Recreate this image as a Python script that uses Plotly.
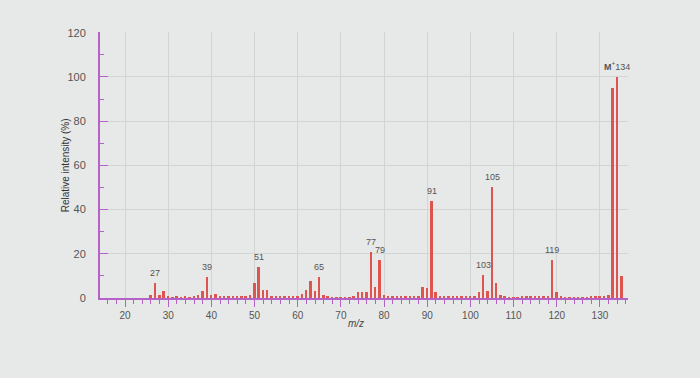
import plotly.graph_objects as go

# m/z values and relative intensities (%)
mz = list(range(26, 136))
intensity = [
    1.2, 7.0, 1.5, 3.0, 0.5, 0.3, 0.5, 0.4, 0.5, 0.4,   # 26-35
    0.6, 1.5, 3.0, 9.5, 1.5, 2.0, 1.0, 0.8, 0.8, 0.8,   # 36-45
    0.8, 0.5, 0.5, 1.5, 7.0, 14.0, 3.5, 3.5, 1.0, 1.0,  # 46-55
    0.5, 0.5, 0.5, 0.8, 1.0, 2.0, 3.5, 7.5, 3.0, 9.5,   # 56-65
    1.5, 1.0, 0.3, 0.3, 0.3, 0.3, 0.3, 0.8, 2.7, 2.7,   # 66-75
    2.5, 21.0, 5.0, 17.0, 1.5, 0.8, 0.5, 0.7, 0.5, 0.7, # 76-85
    0.8, 0.7, 0.8, 5.0, 4.5, 44.0, 2.5, 0.5, 0.5, 1.0,  # 86-95
    0.5, 0.8, 0.5, 0.8, 0.5, 1.0, 2.5, 10.5, 3.0, 50.0, # 96-105
    7.0, 1.5, 0.5, 0.3, 0.3, 0.3, 0.5, 0.5, 0.5, 0.5,   # 106-115
    0.5, 0.5, 1.0, 17.0, 2.5, 1.0, 0.3, 0.3, 0.3, 0.3,  # 116-125
    0.3, 0.3, 0.5, 0.5, 0.5, 0.8, 1.5, 95.0, 100.0, 10.0 # 126-135
]

label_mz = [27, 39, 51, 65, 77, 79, 91, 103, 105, 119, 134]
label_text = ["27", "39", "51", "65", "77", "79", "91", "103", "105", "119",
              "<b>M</b><sup>+</sup>134"]

x_ticks = [20, 30, 40, 50, 60, 70, 80, 90, 100, 110, 120, 130]
y_ticks = [0, 20, 40, 60, 80, 100, 120]

axis_col = "#b462c8"
bar_col = "#de5550"
bg = "#e7e9e8"
grid = "#d2d5d3"

fig = go.Figure()
fig.add_trace(go.Bar(x=mz, y=intensity, width=0.45, marker=dict(color=bar_col, line=dict(width=0)),
                     hoverinfo="x+y"))

lookup = dict(zip(mz, intensity))
for m, t in zip(label_mz, label_text):
    fig.add_annotation(x=m, y=lookup[m], text=t, showarrow=False, xref="x", yref="y",
                       yanchor="bottom", yshift=3,
                       font=dict(size=9, color="#555555", family="Liberation Sans, Arial"))

fig.add_annotation(text="Relative intensity (%)", xref="paper", yref="y", x=0, y=60,
                   xanchor="center", yanchor="middle", xshift=-35, textangle=-90, showarrow=False,
                   font=dict(size=10, color="#333333", family="Liberation Sans, Arial"))
fig.add_annotation(text="<i>m/z</i>", xref="x", yref="paper", x=73.5, y=0, yanchor="middle",
                   yshift=-25, showarrow=False,
                   font=dict(size=10, color="#444444", family="Liberation Sans, Arial"))

fig.update_layout(
    width=700, height=378,
    margin=dict(l=100, r=72, t=32, b=80),
    paper_bgcolor=bg, plot_bgcolor=bg,
    showlegend=False, bargap=0,
    font=dict(family="Liberation Sans, Arial", size=11, color="#555555"),
)
fig.update_xaxes(
    range=[14.2, 136.5], tickvals=x_ticks, ticks="outside", ticklen=7, tickcolor=axis_col,
    showline=True, linecolor=axis_col, linewidth=2, showgrid=True, gridcolor=grid, gridwidth=1,
    zeroline=False, tickfont=dict(size=10, color="#555555"),
    minor=dict(dtick=2, tick0=0, ticks="outside", ticklen=4, tickcolor=axis_col, showgrid=False),
)
fig.update_yaxes(
    range=[0, 120.3], tickvals=y_ticks, ticks="inside", ticklen=8, tickcolor=axis_col,
    showline=True, linecolor=axis_col, linewidth=2, showgrid=True, gridcolor=grid, gridwidth=1,
    zeroline=False, ticklabelstandoff=10, tickfont=dict(size=11, color="#555555"),
    minor=dict(dtick=10, tick0=0, ticks="inside", ticklen=4, tickcolor=axis_col, showgrid=False),
)

fig.write_html("out.html")
